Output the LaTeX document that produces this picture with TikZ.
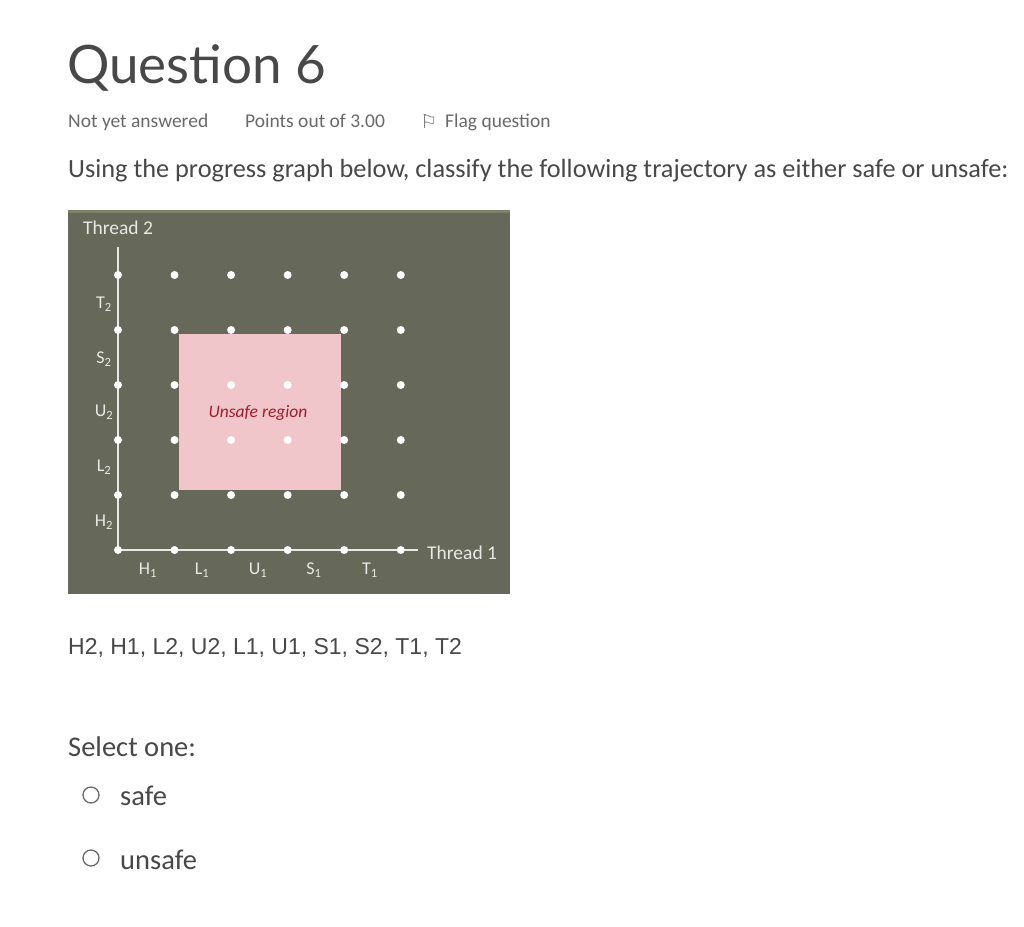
\documentclass[tikz,border=0pt]{standalone}
\usepackage{fontspec}
\setmainfont{Carlito}
\newfontfamily\titlefont{Lato}
\newfontfamily\arialfont{Liberation Sans}
\newfontfamily\symfont{DejaVu Sans}
\definecolor{panel}{RGB}{102,104,89}
\definecolor{paneledge}{RGB}{124,130,106}
\definecolor{unsafefill}{RGB}{240,198,202}
\definecolor{unsafetext}{RGB}{160,28,44}
\definecolor{bodytext}{RGB}{72,72,72}
\definecolor{metatext}{RGB}{105,105,105}
\definecolor{axis}{RGB}{232,232,228}
\begin{document}
\begin{tikzpicture}[x=1pt, y=-1pt]
\tikzstyle{txt} = [inner sep=0pt, anchor=base west]
\tikzstyle{lbl} = [inner sep=0pt, text=axis, font=\fontsize{18}{18}\selectfont]
\tikzstyle{dot} = [circle, fill=white, inner sep=0pt, minimum size=8pt]
\tikzstyle{radio} = [circle, draw=metatext, line width=1.3pt, inner sep=0pt, minimum size=16pt]

\useasboundingbox[fill=white] (0,0) rectangle (1024,926);

\node[txt, text=bodytext, font=\titlefont\fontsize{53}{53}\selectfont] (title) at (67,83) {Question 6};
\node[txt, text=metatext, font=\fontsize{19.5}{20}\selectfont] (state) at (68,127) {Not yet answered};
\node[txt, text=metatext, font=\fontsize{19.5}{20}\selectfont] (points) at (245,127) {Points out of 3.00};
\node[inner sep=0pt, text=metatext, font=\symfont\fontsize{19}{19}\selectfont] (flagicon) at (429,122) {⚐};
\node[txt, text=metatext, font=\fontsize{19.5}{20}\selectfont] (flag) at (445,127) {Flag question};
\node[txt, text=bodytext, font=\fontsize{26.3}{28}\selectfont] (ask) at (68,177) {Using the progress graph below, classify the following trajectory as either safe or unsafe:};

\fill[panel] (68,210) rectangle (510,594);
\fill[paneledge] (68,210) rectangle (510,213);
\fill[unsafefill] (179,334) rectangle (341,490);
\node[inner sep=0pt, text=unsafetext, font=\itshape\fontsize{17.5}{18}\selectfont] (unsafe) at (258,413) {Unsafe region};

\coordinate (top) at (118,247);
\coordinate (origin) at (118,550);
\coordinate (right) at (418,550);
\draw[axis, line width=1.5pt] (top) -- (origin) -- (right);

\foreach \i in {0,...,5} {
  \foreach \j in {0,...,5} {
    \node[dot] (p\i\j) at ({118+56.55*\i},{550-55*\j}) {};
  }
}

\node[lbl, font=\fontsize{19.5}{20}\selectfont] (thread2) at (118,228) {Thread 2};
\node[lbl, font=\fontsize{19.5}{20}\selectfont, anchor=west] (thread1) at (427,553) {Thread 1};

\node[lbl] (T2) at (104,304) {T\textsubscript{2}};
\node[lbl] (S2) at (104,359) {S\textsubscript{2}};
\node[lbl] (U2) at (104,412) {U\textsubscript{2}};
\node[lbl] (L2) at (104,467) {L\textsubscript{2}};
\node[lbl] (H2) at (104,522) {H\textsubscript{2}};
\node[lbl] (H1) at (148,570) {H\textsubscript{1}};
\node[lbl] (L1) at (202,570) {L\textsubscript{1}};
\node[lbl] (U1) at (258,570) {U\textsubscript{1}};
\node[lbl] (S1) at (314,570) {S\textsubscript{1}};
\node[lbl] (T1) at (370,570) {T\textsubscript{1}};

\node[txt, text=bodytext, font=\arialfont\fontsize{23}{24}\selectfont] (path) at (68,654) {H2, H1, L2, U2, L1, U1, S1, S2, T1, T2};
\node[txt, text=bodytext, font=\fontsize{28.5}{30}\selectfont] (select) at (68,756) {Select one:};
\node[radio] (r1) at (91,795) {};
\node[txt, text=bodytext, font=\fontsize{28.5}{30}\selectfont] (safe) at (120,805) {safe};
\node[radio] (r2) at (91,858) {};
\node[txt, text=bodytext, font=\fontsize{28.5}{30}\selectfont] (unsafeopt) at (120,869) {unsafe};
\end{tikzpicture}
\end{document}
